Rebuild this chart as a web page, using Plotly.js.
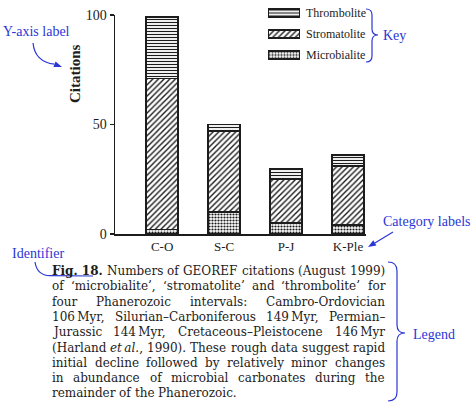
<!DOCTYPE html>
<html>
<head>
<meta charset="utf-8">
<script src="https://cdn.plot.ly/plotly-3.0.1.min.js"></script>
<style>
  html, body { margin: 0; padding: 0; background: #fff; }
  #chart { width: 474px; height: 407px; }
</style>
</head>
<body>
<div id="chart"></div>
<script>
// Phanerozoic intervals on the x axis
const intervals = ['C-O', 'S-C', 'P-J', 'K-Ple'];
// GEOREF citation counts for each term, per interval
const microbialite = [2, 10, 5, 4];
const stromatolite = [69, 37, 20, 27];
const thrombolite = [28, 3, 5, 5];
// Key rows, bottom to top
const keyTerms = ['Microbialite', 'Stromatolite', 'Thrombolite'];
// Value axis ticks
const yTicks = [0, 50, 100];

// Figure caption, one entry per typeset line
const captionLines = [
  '<b>Fig.\u00a018.</b> Numbers of GEOREF citations (August 1999)',
  'of \u2018microbialite\u2019, \u2018stromatolite\u2019 and \u2018thrombolite\u2019 for',
  'four Phanerozoic intervals: Cambro-Ordovician',
  '106\u2009Myr, Silurian\u2013Carboniferous 149\u2009Myr, Permian\u2013',
  'Jurassic 144\u2009Myr, Cretaceous\u2013Pleistocene 146\u2009Myr',
  '(Harland <i>et\u2009al.</i>, 1990). These rough data suggest rapid',
  'initial decline followed by relatively minor changes',
  'in abundance of microbial carbonates during the',
  'remainder of the Phanerozoic.'
];

// Callout notes
const noteYAxis = 'Y-axis label';
const noteKey = 'Key';
const noteCategory = 'Category labels';
const noteIdentifier = 'Identifier';
const noteLegend = 'Legend';

// ---- page geometry (margins are zero, so paper units map straight to pixels)
const W = 474, H = 407;
const fx = x => x / W;
const fy = y => 1 - y / H;
const pathOf = pts => pts.map(p => fx(p[0]) + ',' + fy(p[1])).join(' ');

const INK = '#1c1c1c';
const BLUE = '#2b36d6';
const SERIF = 'Liberation Serif, Times New Roman, serif';
const CAP_FONT = 'DejaVu Serif';
const CAP_SIZE = 12;

const patterns = {
  Microbialite: { shape: '.', size: 3, solidity: 0.42 },
  Stromatolite: { shape: '/', size: 4, solidity: 0.35 },
  Thrombolite: { shape: '-', size: 3, solidity: 0.38 }
};

function barTrace(name, values) {
  const p = patterns[name];
  return {
    type: 'bar', name: name, x: intervals, y: values,
    width: 0.52,
    marker: {
      color: '#fff',
      line: { color: INK, width: 1.5 },
      pattern: { shape: p.shape, size: p.size, solidity: p.solidity, fgcolor: INK, bgcolor: '#fff', fillmode: 'replace' }
    },
    showlegend: false, hoverinfo: 'skip'
  };
}

const traces = [
  barTrace('Microbialite', microbialite),
  barTrace('Stromatolite', stromatolite),
  barTrace('Thrombolite', thrombolite),
  // key swatches, drawn on their own small axes
  {
    type: 'bar', orientation: 'h', xaxis: 'x2', yaxis: 'y2',
    y: keyTerms, x: keyTerms.map(() => 1), width: 0.38, cliponaxis: false,
    marker: {
      color: '#fff',
      line: { color: INK, width: 1.3 },
      pattern: {
        shape: keyTerms.map(k => patterns[k].shape),
        size: keyTerms.map(k => patterns[k].size),
        solidity: keyTerms.map(k => patterns[k].solidity),
        fgcolor: INK, bgcolor: '#fff', fillmode: 'replace'
      }
    },
    showlegend: false, hoverinfo: 'skip'
  }
];

// ---- justified caption, word by word
const ctx = document.createElement('canvas').getContext('2d');
function measure(token) {
  let w = 0, bold = false, ital = false;
  token.split(/(<\/?[bi]>)/).forEach(seg => {
    if (seg === '<b>') bold = true;
    else if (seg === '</b>') bold = false;
    else if (seg === '<i>') ital = true;
    else if (seg === '</i>') ital = false;
    else if (seg) {
      ctx.font = (ital ? 'italic ' : '') + (bold ? 'bold ' : '') + CAP_SIZE + 'px "' + CAP_FONT + '"';
      w += ctx.measureText(seg).width;
    }
  });
  return w;
}

const annotations = [];
const CAP_LEFT = 52, CAP_RIGHT = 385, CAP_TOP = 271, CAP_LEAD = 15.3;
captionLines.forEach((line, i) => {
  const words = line.split(' ');
  const widths = words.map(measure);
  const total = widths.reduce((a, b) => a + b, 0);
  const last = i === captionLines.length - 1;
  const gap = (last || words.length < 2) ? measure(' ') : (CAP_RIGHT - CAP_LEFT - total) / (words.length - 1);
  let x = CAP_LEFT;
  const y = CAP_TOP + i * CAP_LEAD;
  words.forEach((wd, j) => {
    annotations.push({
      xref: 'paper', yref: 'paper', x: fx(x), y: fy(y), xanchor: 'left', yanchor: 'middle',
      text: wd, showarrow: false, borderpad: 0, borderwidth: 0,
      font: { family: CAP_FONT, size: CAP_SIZE, color: INK }
    });
    x += widths[j] + gap;
  });
});

// axis title
annotations.push({
  xref: 'paper', yref: 'paper', x: fx(75), y: fy(74), xanchor: 'center', yanchor: 'middle',
  text: '<b>Citations</b>', textangle: -90, showarrow: false, borderpad: 0, borderwidth: 0,
  font: { family: SERIF, size: 15, color: INK }
});

// callout labels
function note(text, x, y) {
  annotations.push({
    xref: 'paper', yref: 'paper', x: fx(x), y: fy(y), xanchor: 'left', yanchor: 'middle',
    text: text, showarrow: false, borderpad: 0, borderwidth: 0,
    font: { family: SERIF, size: 14, color: BLUE }
  });
}
note(noteYAxis, 3, 31);
note(noteKey, 383, 36);
note(noteCategory, 383, 222);
note(noteIdentifier, 12, 253);
note(noteLegend, 413, 334);

const blueLine = { color: BLUE, width: 1.2 };
const shapes = [
  // curved pointer to the axis title
  { type: 'path', xref: 'paper', yref: 'paper', line: blueLine,
    path: 'M' + pathOf([[33, 43]]) + ' Q' + pathOf([[35, 62], [54.5, 64.2]]) },
  { type: 'path', xref: 'paper', yref: 'paper', line: { width: 0 }, fillcolor: BLUE,
    path: 'M' + pathOf([[62, 67]]) + ' L' + pathOf([[53.4, 67.0]]) + ' L' + pathOf([[55.6, 61.4]]) + ' Z' },
  // brace beside the key
  { type: 'path', xref: 'paper', yref: 'paper', line: blueLine,
    path: 'M' + pathOf([[366, 9]]) + ' Q' + pathOf([[372, 9], [372, 15]]) + ' L' + pathOf([[372, 29]]) +
          ' Q' + pathOf([[372, 35], [378, 35]]) + ' Q' + pathOf([[372, 35], [372, 41]]) + ' L' + pathOf([[372, 56]]) +
          ' Q' + pathOf([[372, 62], [366, 62]]) },
  // pointer to the category labels
  { type: 'path', xref: 'paper', yref: 'paper', line: blueLine,
    path: 'M' + pathOf([[393, 232]]) + ' L' + pathOf([[374.9, 242.9]]) },
  { type: 'path', xref: 'paper', yref: 'paper', line: { width: 0 }, fillcolor: BLUE,
    path: 'M' + pathOf([[368, 247]]) + ' L' + pathOf([[376.4, 245.5]]) + ' L' + pathOf([[373.3, 240.3]]) + ' Z' },
  // hook under the figure number
  { type: 'path', xref: 'paper', yref: 'paper', line: blueLine,
    path: 'M' + pathOf([[35, 262]]) + ' Q' + pathOf([[37, 275.5], [50, 275.7]]) + ' L' + pathOf([[93, 276]]) },
  // brace beside the caption
  { type: 'path', xref: 'paper', yref: 'paper', line: blueLine,
    path: 'M' + pathOf([[388, 262]]) + ' Q' + pathOf([[397, 262], [397, 271]]) + ' L' + pathOf([[397, 325]]) +
          ' Q' + pathOf([[397, 333], [405, 333]]) + ' Q' + pathOf([[397, 333], [397, 341]]) + ' L' + pathOf([[397, 392]]) +
          ' Q' + pathOf([[397, 401], [388, 401]]) }
];

const layout = {
  width: W, height: H,
  margin: { l: 0, r: 0, t: 0, b: 0, pad: 0 },
  paper_bgcolor: '#fff', plot_bgcolor: 'rgba(0,0,0,0)',
  barmode: 'stack',
  showlegend: false,
  xaxis: {
    domain: [fx(115), fx(366)], anchor: 'y', type: 'category', range: [-0.76, 3.29],
    showline: true, linecolor: INK, linewidth: 1.5, ticks: '', showgrid: false, zeroline: false,
    tickfont: { family: SERIF, size: 13, color: INK }, fixedrange: true
  },
  yaxis: {
    domain: [fy(234), fy(15)], anchor: 'x', range: [0, 100],
    tickvals: yTicks, ticktext: yTicks.map(String),
    showline: true, linecolor: INK, linewidth: 1.5, ticks: 'outside', ticklen: 4, tickwidth: 1.3, tickcolor: INK,
    showgrid: false, zeroline: false,
    tickfont: { family: SERIF, size: 14, color: INK }, fixedrange: true
  },
  xaxis2: {
    domain: [fx(268), fx(300)], anchor: 'y2', range: [0, 1], visible: false, fixedrange: true
  },
  yaxis2: {
    domain: [fy(65.5), fy(2.5)], anchor: 'x2', type: 'category', range: [-0.5, 2.5], side: 'right',
    showline: false, ticks: '', showgrid: false, zeroline: false, ticklabelstandoff: 5,
    tickfont: { family: SERIF, size: 12, color: INK }, fixedrange: true
  },
  annotations: annotations,
  shapes: shapes
};

Plotly.newPlot('chart', traces, layout, { staticPlot: true, displayModeBar: false });
</script>
</body>
</html>
